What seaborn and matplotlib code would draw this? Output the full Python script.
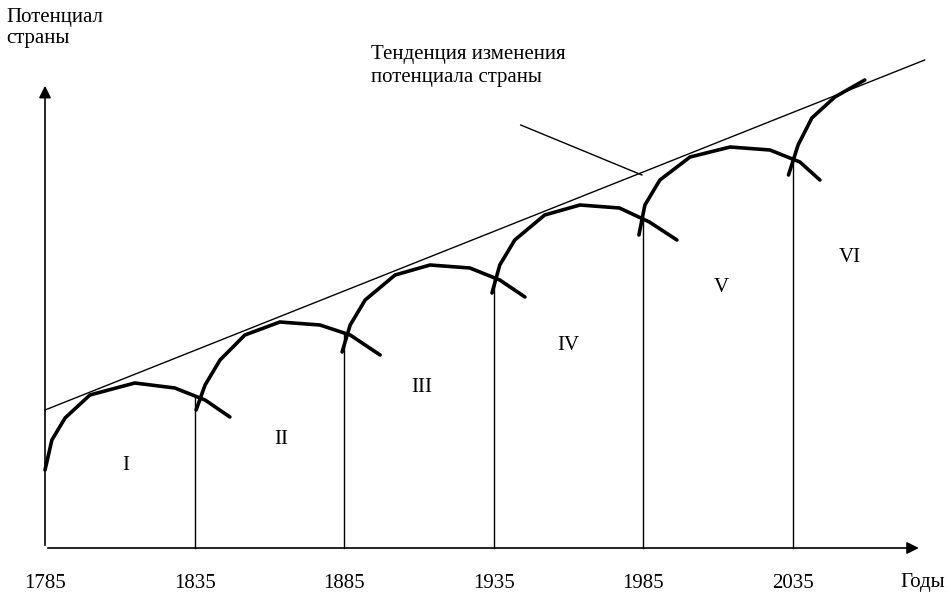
import matplotlib
matplotlib.use("Agg")
import matplotlib.pyplot as plt
import seaborn as sns
import pandas as pd

years = [1785, 1835, 1885, 1935, 1985, 2035]
phases = ["I", "II", "III", "IV", "V", "VI"]
phase_x = [1812, 1864, 1911, 1960, 2011, 2054]
phase_y = [83, 108, 160, 203, 261, 290]
wave_x = [
    [1785, 1787.3, 1791.7, 1800, 1815, 1828.4, 1838.5, 1846.8],
    [1835.5, 1838.5, 1843.5, 1851.8, 1863.5, 1876.9, 1887, 1897],
    [1884.3, 1887, 1892, 1902, 1913.7, 1927, 1937, 1945.4],
    [1934.4, 1937, 1942, 1952, 1963.8, 1977, 1987, 1996.2],
    [1983.5, 1985.5, 1990.5, 2000.6, 2014, 2027.3, 2037.3, 2044],
    [2033.5, 2036.7, 2041.3, 2049, 2059],
]
wave_y = [
    [78, 108, 130, 153, 165, 160, 148, 131],
    [138, 163, 188, 213, 226, 223, 213, 193],
    [196, 223, 248, 273, 283, 280, 268, 251],
    [255, 283, 308, 333, 343, 340, 326, 308],
    [313, 343, 368, 391, 401, 398, 386, 368],
    [373, 403, 430, 451, 468],
]
vline_top = [150, 215, 270, 330, 390]
trend_x = [1785, 2079]
trend_y = [138, 488]

plt.rcParams["font.family"] = "Liberation Serif"
fig = plt.figure(figsize=(9.51, 6.13), dpi=100)
ax = fig.add_axes([0, 0, 1, 1])
ax.set_xlim(1785 - 45 / 2.992, 1785 + 906 / 2.992)
ax.set_ylim(-65, 548)
ax.axis("off")

rows = []
for i, (xs, ys) in enumerate(zip(wave_x, wave_y)):
    for j, (x, y) in enumerate(zip(xs, ys)):
        rows.append({"x": x, "y": y, "wave": phases[i], "o": j})
df = pd.DataFrame(rows)
sns.lineplot(data=df, x="x", y="y", units="wave", estimator=None, sort=False,
             color="black", lw=2.6, ax=ax, solid_joinstyle="round", solid_capstyle="round")
sns.lineplot(x=trend_x, y=trend_y, color="black", lw=1.0, ax=ax)

for yr, top in zip(years[1:], vline_top):
    ax.plot([yr, yr], [0, top], color="black", lw=1.0)

ax.annotate("", xy=(2078, 0), xytext=(1785, 0),
            arrowprops=dict(arrowstyle="-|>", color="black", lw=1.2, mutation_scale=18))
ax.annotate("", xy=(1785, 465), xytext=(1785, 0),
            arrowprops=dict(arrowstyle="-|>", color="black", lw=1.2, mutation_scale=18))

for yr in years:
    ax.text(yr, -35, str(yr), ha="center", va="center", fontsize=15)
ax.text(1785 + 900 / 2.992, -35, "Годы", ha="right", va="center", fontsize=15)
ax.text(1772, 548 - 8, "Потенциал\nстраны", ha="left", va="top", fontsize=15, linespacing=1.15)
ax.text(1894, 548 - 45, "Тенденция изменения\nпотенциала страны", ha="left", va="top",
        fontsize=15, linespacing=1.3)
ax.plot([1944, 1984.5], [548 - 125, 548 - 175], color="black", lw=1.0)
for p, x, y in zip(phases, phase_x, phase_y):
    ax.text(x, y, p, ha="center", va="center", fontsize=15)

fig.savefig("out.png", dpi=100)
